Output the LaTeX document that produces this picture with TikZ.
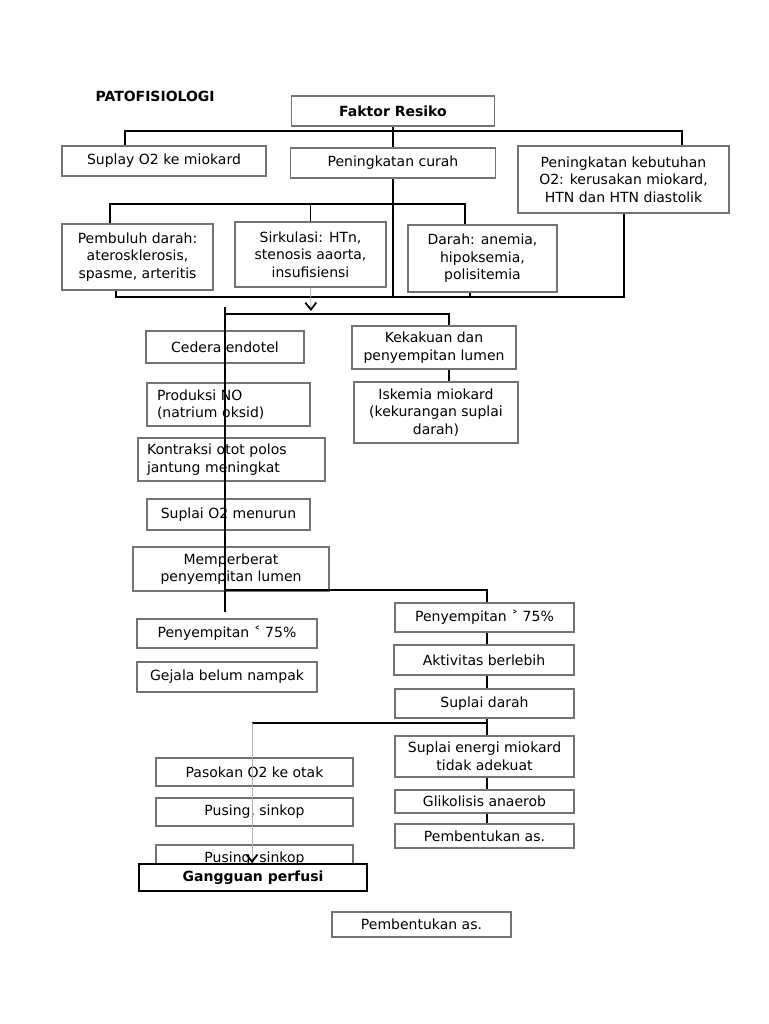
\documentclass[tikz,border=0pt]{standalone}
\usepackage{fontspec}
\setmainfont{DejaVu Sans}
\usetikzlibrary{arrows.meta}

\begin{document}
\begin{tikzpicture}[x=1pt, y=-1pt,
  box/.style={draw=black!55, line width=1.3pt, rectangle, inner sep=0pt, align=center,
    font=\fontsize{14}{17.5}\selectfont},
  conn/.style={draw=black, line width=1.1pt},
  faint/.style={draw=black!30, line width=0.8pt, -{Straight Barb[color=black, line width=1.8pt, length=7pt, width=11pt]}}]
  % Page frame
  \useasboundingbox (0,0) rectangle (768,1024);
  \fill[white] (0,0) rectangle (768,1024);

  \node[anchor=west, font=\bfseries\fontsize{14}{16}\selectfont] (title) at (92,96) {PATOFISIOLOGI};

  % Top level
  \node[box, font=\bfseries\fontsize{14}{16}\selectfont, minimum width=203, minimum height=30] (faktor) at (393,111) {Faktor Resiko};
  \node[box, minimum width=204, minimum height=30] (suplay) at (164,161) {Suplay O2 ke miokard};
  \node[box, minimum width=205, minimum height=30] (curah) at (393,163) {Peningkatan curah};
  \node[box, minimum width=211, minimum height=67] (kebutuhan) at (623.5,179.5) {Peningkatan kebutuhan\\O2: kerusakan miokard,\\HTN dan HTN diastolik};

  \node[box, minimum width=151, minimum height=66] (pembuluh) at (137.5,257) {Pembuluh darah:\\aterosklerosis,\\spasme, arteritis};
  \node[box, minimum width=151, minimum height=65] (sirkulasi) at (310.5,254.5) {Sirkulasi: HTn,\\stenosis aaorta,\\insufisiensi};
  \node[box, minimum width=149, minimum height=67] (darah) at (482.5,258.5) {Darah: anemia,\\hipoksemia,\\polisitemia};

  % Left column
  \node[box, minimum width=158, minimum height=32] (cedera) at (225,347) {Cedera endotel};
  \node[box, align=left, text width=143, inner xsep=10pt, minimum height=43] (produksi) at (228.5,404.5) {Produksi NO\\(natrium oksid)};
  \node[box, align=left, text width=169, inner xsep=9pt, minimum height=43] (kontraksi) at (231.5,459.5) {Kontraksi otot polos\\jantung meningkat};
  \node[box, minimum width=163, minimum height=31] (turun) at (228.5,514.5) {Suplai O2 menurun};
  \node[box, minimum width=196, minimum height=44] (berat) at (231,569) {Memperberat\\penyempitan lumen};

  % Right column
  \node[box, minimum width=164, minimum height=43] (kekakuan) at (434,347.5) {Kekakuan dan\\penyempitan lumen};
  \node[box, minimum width=164, minimum height=61] (iskemia) at (436,412.5) {Iskemia miokard\\(kekurangan suplai\\darah)};

  \node[box, minimum width=180, minimum height=29] (kurang) at (227,633.5) {Penyempitan ˂ 75\%};
  \node[box, minimum width=180, minimum height=30] (gejala) at (227,677) {Gejala belum nampak};

  \node[box, minimum width=179, minimum height=29] (lebih) at (484.5,617.5) {Penyempitan ˃ 75\%};
  \node[box, minimum width=180, minimum height=30] (aktivitas) at (484,660) {Aktivitas berlebih};
  \node[box, minimum width=179, minimum height=29] (sdarah) at (484.5,703.5) {Suplai darah};
  \node[box, minimum width=179, minimum height=41] (energi) at (484.5,756.5) {Suplai energi miokard\\tidak adekuat};
  \node[box, minimum width=179, minimum height=23] (glikolisis) at (484.5,801.5) {Glikolisis anaerob};
  \node[box, minimum width=179, minimum height=24] (asamA) at (484.5,836) {Pembentukan as.};

  \node[box, minimum width=197, minimum height=28] (pasokan) at (254.5,772) {Pasokan O2 ke otak};
  \node[box, minimum width=197, minimum height=28] (pusingA) at (254.5,812) {Pusing, sinkop};
  \node[box, minimum width=197, minimum height=28] (pusingB) at (254.5,859) {Pusing, sinkop};
  \node[box, draw=black, fill=white, line width=2.6pt, font=\bfseries\fontsize{14}{17}\selectfont, minimum width=228, minimum height=27] (gangguan) at (253,877.5) {Gangguan perfusi};

  \node[box, minimum width=179, minimum height=25] (asamB) at (421.5,924.5) {Pembentukan as.};

  % Bus points
  \coordinate (busA) at (125,131);
  \coordinate (busB) at (682,131);
  \coordinate (busC) at (110,204);
  \coordinate (busCr) at (465,204);
  \coordinate (busD) at (116,297);
  \coordinate (busDm) at (470,297);
  \coordinate (busDr) at (624,297);
  \coordinate (tipA) at (311,311);
  \coordinate (busE) at (225,314);
  \coordinate (busEr) at (449,314);
  \coordinate (spineTop) at (225,307);
  \coordinate (spineBot) at (225,612);
  \coordinate (busF) at (225,590);
  \coordinate (busFr) at (487,590);
  \coordinate (busG) at (252,723);
  \coordinate (tipB) at (252,863);

  % Connectors
  \draw[conn] (faktor.south) -- (curah.north);
  \draw[conn] (busA |- suplay.north) -- (busA) -- (busB) -- (busB |- kebutuhan.north);
  \draw[conn] (busC |- pembuluh.north) -- (busC) -- (busCr) -- (busCr |- darah.north);
  \draw[conn] (sirkulasi.north |- busC) -- (sirkulasi.north);
  \draw[conn] (curah.south) -- (curah.south |- busD);
  \draw[conn] (busD |- pembuluh.south) -- (busD) -- (busDr) -- (busDr |- kebutuhan.south);
  \draw[conn] (busDm) -- (busDm |- darah.south);
  \draw[faint] (sirkulasi.south) -- (tipA);

  \draw[conn] (busE) -- (busEr) -- (busEr |- kekakuan.north);
  \draw[conn] (busEr |- kekakuan.south) -- (busEr |- iskemia.north);
  \draw[conn] (spineTop) -- (spineBot);
  \draw[conn] (busF) -- (busFr) -- (busFr |- lebih.north);

  \draw[conn] (busFr |- lebih.south) -- (busFr |- aktivitas.north);
  \draw[conn] (busFr |- aktivitas.south) -- (busFr |- sdarah.north);
  \draw[conn] (busFr |- sdarah.south) -- (busFr |- energi.north);
  \draw[conn] (busG) -- (busFr |- busG);
  \draw[conn] (busFr |- energi.south) -- (busFr |- glikolisis.north);
  \draw[conn] (busFr |- glikolisis.south) -- (busFr |- asamA.north);
  \draw[faint] (busG) -- (tipB);
\end{tikzpicture}
\end{document}
